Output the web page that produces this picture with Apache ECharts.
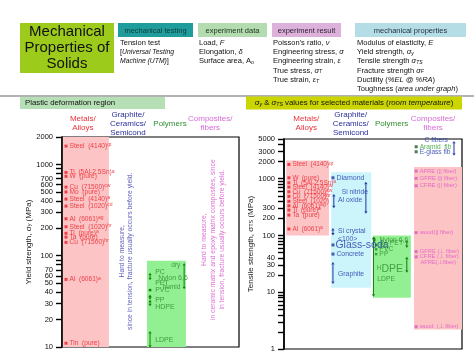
<!DOCTYPE html>
<html><head><meta charset="utf-8">
<script src="https://cdn.jsdelivr.net/npm/echarts@6/dist/echarts.min.js"></script>
<style>html,body{margin:0;padding:0;background:#fff}#c{width:474px;height:355px}</style>
</head><body><div id="c"></div>
<script>
const FONT = '"Liberation Sans", Arial, Helvetica, sans-serif';

// ---------- categories ----------
const categories = ['Metals/\nAlloys', 'Graphite/\nCeramics/\nSemicond', 'Polymers', 'Composites/\nfibers'];
const categoryColors = ['#e8323c', '#2b2f9c', '#2f8f2f', '#d86ad6'];

// ---------- tick labels ----------
const yieldTickLabels = [10, 20, 30, 40, 50, 60, 70, 100, 200, 300, 400, 500, 600, 700, 1000, 2000];
const yieldTicks = [10, 20, 30, 40, 50, 60, 70, 80, 90, 100, 200, 300, 400, 500, 600, 700, 800, 900, 1000, 2000];
const tensileTickLabels = [1, 10, 20, 30, 40, 100, 200, 300, 1000, 2000, 3000, 5000];
const tensileTicks = [1, 2, 3, 4, 5, 6, 7, 8, 9, 10, 20, 30, 40, 50, 60, 70, 80, 90, 100, 200, 300, 400, 500, 600, 700, 800, 900, 1000, 2000, 3000, 4000, 5000];

// ---------- yield strength (MPa) ----------
const yieldMetalNames = ['Steel  (4140)', 'Ti  (5Al-2.5Sn)', 'W  (pure)', 'Cu  (71500)', 'Mo  (pure)', 'Steel  (4140)', 'Steel  (1020)', 'Al  (6061)', 'Steel  (1020)', 'Ti  (pure)', 'Ta  (pure)', 'Cu  (71500)', 'Al  (6061)', 'Tin  (pure)'];
const yieldMetalSup = ['qt', 'a', '', 'cw', '', 'a', 'cd', 'ag', 'hr', 'a', '', 'hr', 'a', ''];
const yieldMetalMPa = [1590, 818, 742, 565, 500, 418, 350, 254, 208, 176, 160, 140, 55, 11];

const yieldPolymerNames = ['PC', 'Nylon 6,6', 'PET', 'PVC', 'PP', 'HDPE', 'LDPE'];
const yieldPolymerMPa = [67, 57, 50, 42, 33, 27.6, 11.9];
const yieldPolymerRangeLo = [54, 40, 33, 28, 9.8, 43];
const yieldPolymerRangeHi = [65, 44, 37.5, 33, 15, 83];
const yieldNylonNotes = ['dry', 'humid'];
const yieldNylonNoteMPa = [79, 45];

// region spans (MPa): metals, polymers
const yieldRegionLo = [10, 10];
const yieldRegionHi = [2000, 88];

// ---------- tensile strength (MPa) ----------
const tensileMetalNames = ['Steel  (4140)', 'W  (pure)', 'Ti  (5Al-2.5Sn)', 'Steel  (4140)', 'Cu  (71500)', 'Cu  (71500)', 'Steel  (1020)', 'Al  (6061)', 'Ti  (pure)', 'Ta  (pure)', 'Al  (6061)'];
const tensileMetalSup = ['qt', '', 'a', 'a', 'cw', 'hr', '', 'ag', 'a', '', 'a'];
const tensileMetalMPa = [1780, 1037, 847, 711, 588, 487, 399, 333, 280, 229, 130];

const tensileCeramicDotNames = ['Diamond', 'Glass-soda', 'Concrete'];
const tensileCeramicDotMPa = [1037, 68, 47];
const tensileCeramicRangeNames = ['Si nitride', 'Al oxide', 'Si crystal\n<100>', 'Graphite'];
const tensileCeramicRangeLo = [240, 300, 100, 14];
const tensileCeramicRangeHi = [880, 540, 135, 34];
const tensileCeramicLabelMPa = [590, 420, 100, 21];

const tensilePolymerNames = ['Nylon 6,6', 'PC', 'PVC', 'PP', 'LDPE'];
const tensilePolymerMPa = [84, 68, 57, 47, 17];
const tensilePolymerRightNames = ['PET', '{hs|H}{hb|DPE}'];
const tensilePolymerRightMPa = [72, 26];
const tensilePolymerRangeLo = [76, 8.3, 60, 22];
const tensilePolymerRangeHi = [94, 95, 83, 42];

const tensileFiberNames = ['Aramid  fib', 'E-glass fib'];
const tensileFiberMPa = [3650, 2980];
const tensileCFiberLo = [2530];
const tensileCFiberHi = [4590];
const tensileCFiberLabelMPa = [4750];

const tensileCompositeNames = ['AFRE (|| fiber)', 'GFRE (|| fiber)', 'CFRE (|| fiber)', 'wood(|| fiber)', 'GFRE (\u22A5 fiber)', 'CFRE (\u22A5 fiber)', 'AFRE(\u22A5fiber)', 'wood  (\u22A5 fiber)'];
const tensileCompositeMPa = [1360, 1012, 750, 112, 52, 42, 34, 2.47];

// region spans (MPa): metals, ceramics, polymers, composites
const tensileRegionLo = [100, 12, 8, 2.2];
const tensileRegionHi = [2100, 1300, 100, 1600];

// ---------- layout (column units, 0..4 per panel) ----------
const L = Math.log10;
const yieldRegionX = [[0.02, 1.06], [1.92, 2.80]];
const yieldRegionColor = ['#fcc4c4', '#92f092'];
const tensileRegionX = [[0.05, 1.01], [1.06, 1.96], [2.0, 2.85], [2.92, 4.0]];
const tensileRegionColor = ['#fcc4c4', '#ccf4fb', '#92f092', '#fcc4c4'];

const RICH = {
  s: {fontSize: 5, verticalAlign: 'top', lineHeight: 6, fontFamily: FONT},
  hs: {fontSize: 6.5, fontFamily: FONT, color: '#2f8f2f'},
  hb: {fontSize: 10.5, fontFamily: FONT, color: '#2f8f2f'}
};

function regionSeries(g, xs, lo, hi, colors) {
  return {
    type: 'custom', xAxisIndex: g, yAxisIndex: g, z: 1, silent: true,
    data: lo.map((v, i) => [xs[i][0], xs[i][1], L(v), L(hi[i])]),
    renderItem(params, api) {
      const a = api.coord([api.value(0), api.value(3)]);
      const b = api.coord([api.value(1), api.value(2)]);
      return {type: 'rect', shape: {x: a[0], y: a[1], width: b[0] - a[0], height: b[1] - a[1]},
        style: {fill: colors[params.dataIndex]}};
    }
  };
}

function arrowSeries(g, xs, lo, hi, color) {
  return {
    type: 'custom', xAxisIndex: g, yAxisIndex: g, z: 5, silent: true,
    data: lo.map((v, i) => [xs[i], L(v), L(hi[i])]),
    renderItem(params, api) {
      const t = api.coord([api.value(0), api.value(2)]);
      const b = api.coord([api.value(0), api.value(1)]);
      const h = 2.5, w = 1.6;
      return {type: 'group', children: [
        {type: 'line', shape: {x1: t[0], y1: t[1] + h, x2: b[0], y2: b[1] - h}, style: {stroke: color, lineWidth: 1}},
        {type: 'polygon', shape: {points: [[t[0], t[1]], [t[0] - w, t[1] + h], [t[0] + w, t[1] + h]]}, style: {fill: color}},
        {type: 'polygon', shape: {points: [[b[0], b[1]], [b[0] - w, b[1] - h], [b[0] + w, b[1] - h]]}, style: {fill: color}}
      ]};
    }
  };
}

function pointSeries(g, xs, vals, texts, o) {
  return {
    type: 'scatter', xAxisIndex: g, yAxisIndex: g, z: 6, silent: true,
    symbol: 'rect', symbolSize: o.dot ? (o.dotSize || 3) : 0,
    itemStyle: {color: o.dotColor || o.color},
    data: vals.map((v, i) => ({value: [Array.isArray(xs) ? xs[i] : xs, L(v)], name: texts[i]})),
    label: {show: true, position: o.pos || 'right', distance: o.dist === undefined ? 2 : o.dist,
      formatter: p => p.name, color: o.color, fontSize: o.fs || 6.5, fontFamily: FONT,
      lineHeight: o.lh || (o.fs || 6.5) + 1, rotate: o.rotate || 0, rich: RICH, align: o.align}
  };
}

const supText = (names, sups) => names.map((n, i) => sups[i] ? n + '{s|' + sups[i] + '}' : n);

function yAxis(g, lo, hi, ticks, labels, name) {
  return {
    type: 'value', gridIndex: g, min: L(lo), max: L(hi),
    name: name, nameLocation: 'middle', nameGap: 29, nameRotate: 90,
    nameTextStyle: {fontSize: 8, fontFamily: FONT, color: '#222',
      rich: {sub: {fontSize: 5.5, verticalAlign: 'bottom', fontFamily: FONT, color: '#222'}}},
    axisLine: {show: true, lineStyle: {color: '#000', width: 1.6}},
    axisTick: {show: true, inside: false, length: 6, lineStyle: {color: '#000', width: 1.4},
      customValues: ticks.map(L)},
    axisLabel: {show: true, margin: 9, fontSize: 7.5, fontFamily: FONT, color: '#111',
      customValues: labels.map(L), formatter: v => String(Math.round(Math.pow(10, v)))},
    splitLine: {show: false}
  };
}

const series = [
  regionSeries(0, yieldRegionX, yieldRegionLo, yieldRegionHi, yieldRegionColor),
  regionSeries(1, tensileRegionX, tensileRegionLo, tensileRegionHi, tensileRegionColor),

  // left panel
  pointSeries(0, 0.09, yieldMetalMPa, supText(yieldMetalNames, yieldMetalSup), {color: '#e8202c', dot: true, fs: 6.6}),
  pointSeries(0, [2.06, 2.13, 2.06, 2.06, 2.06, 2.06, 2.06], yieldPolymerMPa, yieldPolymerNames, {color: '#2a8a2a', fs: 7}),
  pointSeries(0, 2.72, yieldNylonNoteMPa, yieldNylonNotes, {color: '#2a8a2a', pos: 'left', fs: 6.5}),
  arrowSeries(0, [1.99, 1.99, 1.99, 1.99, 1.99, 2.76], yieldPolymerRangeLo, yieldPolymerRangeHi, '#137a13'),
  pointSeries(0, [1.45], [112], ['Hard to measure,\nsince in tension, fracture usually occurs before yield.'],
    {color: '#3434a8', pos: 'inside', rotate: 90, fs: 6.8, lh: 8.5, align: 'center'}),
  pointSeries(0, [3.41], [150], ['Hard to measure,\nin ceramic matrix and epoxy matrix composites, since\nin tension, fracture usually occurs before yield.'],
    {color: '#d648c8', pos: 'inside', rotate: 90, fs: 6.8, lh: 9, align: 'center'}),

  // right panel
  pointSeries(1, 0.11, tensileMetalMPa, supText(tensileMetalNames, tensileMetalSup), {color: '#e8202c', dot: true, fs: 6.4}),
  pointSeries(1, 1.1, tensileCeramicDotMPa.slice(0, 1), ['Diamond'], {color: '#1c36a8', dot: true, fs: 7}),
  pointSeries(1, 1.1, tensileCeramicDotMPa.slice(1, 2), ['Glass-soda'], {color: '#1c36a8', dot: true, fs: 10.5, dist: 1}),
  pointSeries(1, 1.1, tensileCeramicDotMPa.slice(2, 3), ['Concrete'], {color: '#1c36a8', dot: true, fs: 6.8}),
  arrowSeries(1, [1.84, 1.12, 1.1, 1.1], tensileCeramicRangeLo, tensileCeramicRangeHi, '#1c36a8'),
  pointSeries(1, [1.25, 1.17, 1.17, 1.17], tensileCeramicLabelMPa, tensileCeramicRangeNames, {color: '#1c36a8', fs: 6.8}),
  pointSeries(1, 2.07, tensilePolymerMPa.slice(1, 4), tensilePolymerNames.slice(1, 4), {color: '#2a8a2a', dot: true, dotSize: 2.5, fs: 6.8}),
  pointSeries(1, [2.1, 2.05], [tensilePolymerMPa[0], tensilePolymerMPa[4]], [tensilePolymerNames[0], tensilePolymerNames[4]], {color: '#2a8a2a', fs: 6.8}),
  pointSeries(1, 2.72, tensilePolymerRightMPa, tensilePolymerRightNames, {color: '#2a8a2a', pos: 'left', fs: 6.8}),
  arrowSeries(1, [2.03, 2.01, 2.76, 2.76], tensilePolymerRangeLo, tensilePolymerRangeHi, '#137a13'),
  pointSeries(1, 2.97, tensileFiberMPa.slice(0, 1), tensileFiberNames.slice(0, 1), {color: '#2a9a2a', dot: true, dotColor: '#1a5a2a', fs: 6.6}),
  pointSeries(1, 2.97, tensileFiberMPa.slice(1, 2), tensileFiberNames.slice(1, 2), {color: '#1c36a8', dot: true, dotColor: '#1a5a2a', fs: 6.6}),
  arrowSeries(1, [3.82], tensileCFiberLo, tensileCFiberHi, '#1c36a8'),
  pointSeries(1, 3.73, tensileCFiberLabelMPa, ['C fibers'], {color: '#1c36a8', pos: 'left', fs: 6.8}),
  pointSeries(1, [2.97, 2.97, 2.97, 2.97, 2.97, 2.97, 3.02, 2.97], tensileCompositeMPa, tensileCompositeNames, {color: '#e052c8', dot: true, fs: 5.8})
];
// AFRE (perp) has no visible dot in the reference: keep its label only
series[series.length - 1].data[6].symbolSize = 0;

const graphic = [];
// Title block
graphic.push({type: 'rect', shape: {x: 20, y: 23, width: 94, height: 50}, style: {fill: '#9ccb1c'}});
graphic.push({type: 'text', x: 67, y: 48, style: {text: 'Mechanical\nProperties of\nSolids', fontSize: 15, lineHeight: 16,
  fontFamily: FONT, fill: '#111', align: 'center', verticalAlign: 'middle'}});

const headers = [
  {x: 118, w: 75, fill: '#1f9d9d', text: 'mechanical testing', color: '#123c3c'},
  {x: 198, w: 69, fill: '#b3ddb1', text: 'experiment data', color: '#223322'},
  {x: 272, w: 69, fill: '#dcb2dc', text: 'experiment result', color: '#332233'},
  {x: 355, w: 111, fill: '#b5dde6', text: 'mechanical properties', color: '#223344'}
];
headers.forEach(h => {
  graphic.push({type: 'rect', shape: {x: h.x, y: 23, width: h.w, height: 14}, style: {fill: h.fill}});
  graphic.push({type: 'text', x: h.x + h.w / 2, y: 30.5, style: {text: h.text, fontSize: 7.5, fontFamily: FONT,
    fill: h.color, align: 'center', verticalAlign: 'middle'}});
});
const TRICH = {
  i: {fontStyle: 'italic', fontSize: 7.5, fontFamily: FONT, fill: '#111'},
  si: {fontStyle: 'italic', fontSize: 6.8, fontFamily: FONT, fill: '#111'},
  sub: {fontSize: 5, fontFamily: FONT, verticalAlign: 'bottom', fill: '#111'},
  isub: {fontSize: 5, fontStyle: 'italic', fontFamily: FONT, verticalAlign: 'bottom', fill: '#111'}
};
const headerColumns = [
  {x: 120, lines: ['Tension test', '[{si|Universal Testing}', '{si|Machine (UTM)}]']},
  {x: 199, lines: ['Load, {i|F}', 'Elongation, {i|\u03B4}', 'Surface area, A{sub|o}']},
  {x: 273, lines: ["Poisson's ratio, {i|\u03BD}", 'Engineering stress, {i|\u03C3}', 'Engineering strain, {i|\u03B5}', 'True stress, {i|\u03C3}{isub|T}', 'True strain, {i|\u03B5}{isub|T}']},
  {x: 357, lines: ['Modulus of elasticity, {i|E}', 'Yield strength, {i|\u03C3}{isub|y}', 'Tensile strength {i|\u03C3}{isub|TS}', 'Fracture strength {i|\u03C3}{isub|F}', 'Ductility ({i|%EL @ %RA})', 'Toughness ({i|area under graph})']}
];
headerColumns.forEach(c => c.lines.forEach((t, i) => {
  graphic.push({type: 'text', x: c.x, y: 43 + i * 9.2, style: {text: t, fontSize: 7.5, fontFamily: FONT,
    fill: '#111', align: 'left', verticalAlign: 'middle', rich: TRICH}});
}));
graphic.push({type: 'line', shape: {x1: 0, y1: 96, x2: 474, y2: 96}, style: {stroke: '#666', lineWidth: 1}});
graphic.push({type: 'rect', shape: {x: 20, y: 97, width: 145, height: 12}, style: {fill: '#b6dfb6'}});
graphic.push({type: 'text', x: 25, y: 103, style: {text: 'Plastic deformation region', fontSize: 7.8, fontFamily: FONT,
  fill: '#111', verticalAlign: 'middle'}});
graphic.push({type: 'rect', shape: {x: 246, y: 96.5, width: 216, height: 13}, style: {fill: '#cbd600'}});
graphic.push({type: 'text', x: 354, y: 103, style: {
  text: '{i|\u03C3}{isub|y} & {i|\u03C3}{isub|TS} values for selected materials ({i|room temperature})',
  fontSize: 7.8, fontFamily: FONT, fill: '#111', align: 'center', verticalAlign: 'middle',
  rich: {i: {fontStyle: 'italic', fontSize: 7.8, fontFamily: FONT, fill: '#111'},
         isub: {fontSize: 5.2, fontStyle: 'italic', fontFamily: FONT, verticalAlign: 'bottom', fill: '#111'}}}});

// category headers above each panel
const panelGeom = [{left: 62, width: 177, centers: [0.47, 1.49, 2.44, 3.35]}, {left: 284, width: 178, centers: [0.5, 1.5, 2.42, 3.35]}];
panelGeom.forEach(p => categories.forEach((c, i) => {
  graphic.push({type: 'text', x: p.left + p.centers[i] * p.width / 4, y: 123.5, style: {text: c, fontSize: 8, lineHeight: 9,
    fontFamily: FONT, fill: categoryColors[i], align: 'center', verticalAlign: 'middle'}});
}));

const option = {
  animation: false,
  backgroundColor: '#fff',
  textStyle: {fontFamily: FONT},
  grid: [
    {left: 62, top: 137, width: 177, height: 210, show: true, borderColor: '#000', borderWidth: 1.2, backgroundColor: 'transparent'},
    {left: 284, top: 139, width: 178, height: 210, show: true, borderColor: '#000', borderWidth: 1.2, backgroundColor: 'transparent'}
  ],
  xAxis: [
    {type: 'value', gridIndex: 0, min: 0, max: 4, show: false},
    {type: 'value', gridIndex: 1, min: 0, max: 4, show: false}
  ],
  yAxis: [
    yAxis(0, 10, 2000, yieldTicks, yieldTickLabels, 'Yield strength, \u03C3{sub|y} (MPa)'),
    yAxis(1, 1, 5000, tensileTicks, tensileTickLabels, 'Tensile strength, \u03C3{sub|TS} (MPa)')
  ],
  series: series,
  graphic: graphic
};
const chart = echarts.init(document.getElementById('c'));
chart.setOption(option);
</script>
</body></html>
